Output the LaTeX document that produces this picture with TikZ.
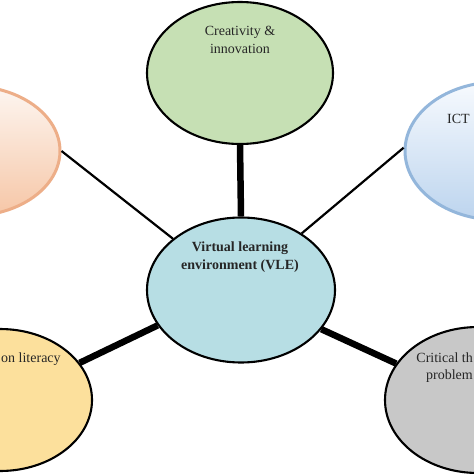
\documentclass[tikz,border=0pt]{standalone}
\usepackage{fontspec}
\setmainfont{Liberation Serif}
\usetikzlibrary{shapes.geometric}
\definecolor{greenfill}{HTML}{C6E0B4}
\definecolor{vlefill}{HTML}{B7DEE4}
\definecolor{yellowfill}{HTML}{FCE09C}
\definecolor{grayfill}{HTML}{C8C8C8}
\definecolor{peachtop}{HTML}{FDF6F1}
\definecolor{peachbot}{HTML}{F6C6A6}
\definecolor{peachedge}{HTML}{EDAE88}
\definecolor{bluetop}{HTML}{F7FAFE}
\definecolor{bluebot}{HTML}{BCD4EE}
\definecolor{blueedge}{HTML}{93B6DB}
\tikzset{
  bubble/.style={ellipse, inner sep=0pt, line width=2.1pt, draw=black},
  lbl/.style={font=\fontsize{14}{17.5}\selectfont, align=center, inner sep=0pt, text=black!85},
  thinlink/.style={line width=2.2pt, black},
  thicklink/.style={line width=6.5pt, black},
}
\begin{document}
\begin{tikzpicture}[x=1pt,y=-1pt]
\useasboundingbox (0,0) rectangle (474,474);
\clip (0,0) rectangle (474,474);
\fill[white] (0,0) rectangle (474,474);
% bubbles
\node[bubble, fill=greenfill, minimum width=186pt, minimum height=142pt] (green) at (240,73) {};
\node[bubble, fill=vlefill, minimum width=188pt, minimum height=145pt] (vle) at (241,290) {};
\node[bubble, draw=peachedge, line width=3pt, top color=peachtop, bottom color=peachbot, minimum width=180pt, minimum height=130pt] (peach) at (-30,151) {};
\node[bubble, draw=blueedge, line width=3pt, top color=bluetop, bottom color=bluebot, minimum width=186pt, minimum height=138pt] (ict) at (498,151) {};
\node[bubble, fill=yellowfill, minimum width=184pt, minimum height=142pt] (yellow) at (0,400) {};
\node[bubble, fill=grayfill, minimum width=186pt, minimum height=146pt] (gray) at (478,400) {};
% connectors
\draw[thicklink] (green.south) -- (vle.north);
\draw[thinlink] (peach.east) -- (vle.143);
\draw[thinlink] (ict.178) -- (vle.43);
\draw[thicklink] (yellow.25) -- (vle.203);
\draw[thicklink] (gray.156) -- (vle.-26);
% texts
\node[lbl] (tgreen) at (240,40) {Creativity \&\\innovation};
\node[lbl, font=\fontsize{14}{18}\selectfont\bfseries] (tvle) at (240,257.5) {Virtual learning\\environment (VLE)};
\node[lbl, anchor=base west] (tict) at (447,123) {ICT};
\node[lbl, anchor=base west] (tyellow) at (1,362) {on literacy};
\node[lbl, anchor=base east] (tgray1) at (473,362) {Critical th};
\node[lbl, anchor=base east] (tgray2) at (473,379) {problem};
\end{tikzpicture}
\end{document}
